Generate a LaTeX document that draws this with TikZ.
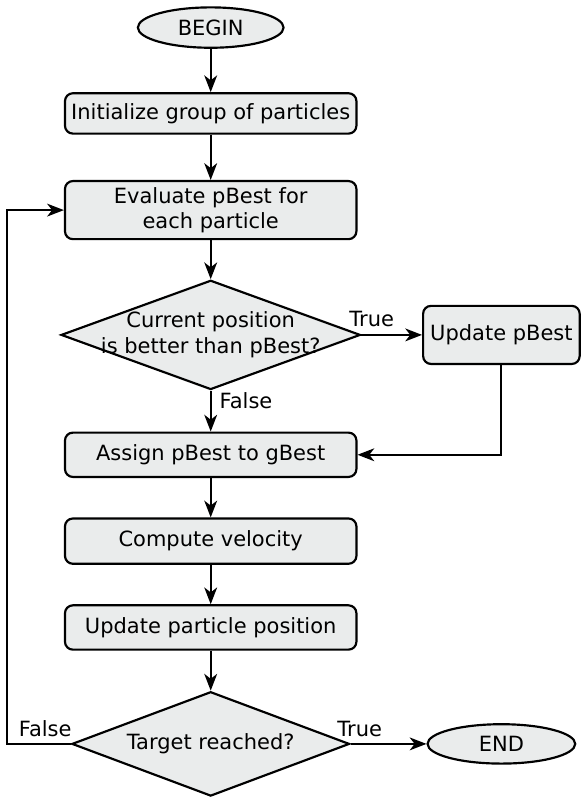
\documentclass[tikz,border=0pt]{standalone}
\usepackage{fontspec}
\setmainfont{DejaVu Sans}
\usetikzlibrary{shapes.geometric,arrows.meta}
\definecolor{boxgray}{RGB}{234,236,236}

\begin{document}
\begin{tikzpicture}[
  every matrix/.style={ampersand replacement=\&,column sep=62pt,row sep=40pt},
  every node/.style={align=center,font=\fontsize{21.3}{26}\selectfont},
  box/.style={draw,line width=2.2pt,rounded corners=8pt,fill=boxgray,inner sep=4pt,minimum width=296pt,minimum height=45pt},
  terminal/.style={draw,line width=2.2pt,ellipse,fill=boxgray,inner sep=0pt,minimum width=148pt,minimum height=41pt},
  decision/.style={draw,line width=2.2pt,diamond,fill=boxgray,aspect=2,inner xsep=-70pt,inner ysep=-5pt},
  flow/.style={-{Stealth[length=17pt,width=13pt,inset=5pt]}, line width=2.2pt},
  lbl/.style={inner sep=2pt}]

% Lay out the flowchart as a two-column matrix
\matrix{
      \node[terminal] (begin) {BEGIN};
      \& \\[4pt]
      \node[box, minimum height=41pt] (initialize) {Initialize group of particles};
      \& \\[6pt]
      \node[box, minimum height=59pt] (evaluate) {Evaluate pBest for \\ each particle};
      \& \\
      \node[decision, minimum width=304pt, minimum height=111pt] (currentBetter) {Current position \\ is better than pBest?};
      \& \node[box, minimum width=159pt, minimum height=59pt] (updatePBest) {Update pBest};
      \\[2pt]
      \node[box] (assignGBest) {Assign pBest to gBest};
      \& \\
      \node[box, minimum height=46pt] (computeVelocity) {Compute velocity};
      \& \\
      \node[box] (updatePosition) {Update particle position};
      \& \\[1pt]
      \node[decision, minimum width=282pt, minimum height=106pt] (targetReached) {Target reached?};
      \& \node[terminal, minimum width=150pt, minimum height=40pt] (finish) {END};
      \\
  };

% Connect the steps, with the True/False branches labelled
\draw [flow] (begin) -- (initialize);
\draw [flow] (initialize) -- (evaluate);
\draw [flow] (evaluate) -- (currentBetter);
\draw [flow] (currentBetter) -- node[lbl, above=5pt, pos=0.17] {True} (updatePBest);
\draw [flow] (currentBetter) -- node[lbl, right=6pt, pos=0.25] {False} (assignGBest);
\draw [flow] (updatePBest) |- (assignGBest);
\draw [flow] (assignGBest) -- (computeVelocity);
\draw [flow] (computeVelocity) -- (updatePosition);
\draw [flow] (updatePosition) -- (targetReached);
\draw [flow] (targetReached) -- node[lbl, above=4pt, pos=0.12] {True} (finish);
\draw [flow] (targetReached.west) -- node[lbl, above=4pt, pos=0.4] {False} ([xshift=-65pt]targetReached.west) |- (evaluate);

\useasboundingbox ([shift={(-214pt,28pt)}]begin.center) rectangle ([shift={(376pt,-772pt)}]begin.center);

\end{tikzpicture}
\end{document}
